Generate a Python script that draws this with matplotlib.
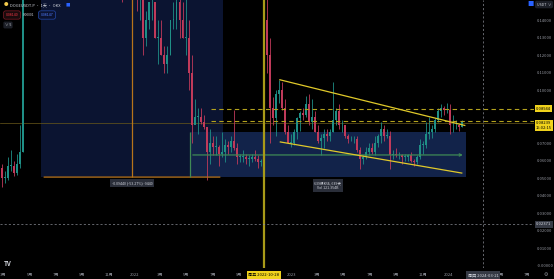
#!/usr/bin/env python3
"""DOGEUSDT.P daily chart, dark TradingView style, with range tools and a falling wedge."""
import matplotlib
matplotlib.use("Agg")
import matplotlib.pyplot as plt  # noqa: E402
import matplotlib.dates as mdates  # noqa: E402
import pandas as pd  # noqa: E402

plt.rcParams["font.family"] = ["Noto Sans CJK SC", "DejaVu Sans"]

# weekly candles, first week starts 2021-02-22
first_open = 0.056
highs = [
    0.058, 0.054, 0.062, 0.066, 0.060, 0.064, 0.080, 0.450, 0.440, 0.400,
    0.740, 0.580, 0.550, 0.380, 0.450, 0.350, 0.340, 0.290, 0.270, 0.250,
    0.210, 0.210, 0.220, 0.250, 0.350, 0.350, 0.330, 0.310, 0.310, 0.260,
    0.250, 0.240, 0.260, 0.260, 0.270, 0.300, 0.290, 0.290, 0.250, 0.230,
    0.230, 0.190, 0.180, 0.190, 0.190, 0.170, 0.200, 0.180, 0.145, 0.150,
    0.175, 0.150, 0.140, 0.140, 0.125, 0.125, 0.140, 0.150, 0.160, 0.160,
    0.150, 0.170, 0.140, 0.120, 0.095, 0.090, 0.090, 0.086, 0.076, 0.078,
    0.074, 0.074, 0.069, 0.076, 0.072, 0.071, 0.074, 0.089, 0.070, 0.064,
    0.066, 0.064, 0.063, 0.064, 0.066, 0.063, 0.061, 0.160, 0.157, 0.130,
    0.096, 0.100, 0.106, 0.105, 0.095, 0.080, 0.075, 0.078, 0.085, 0.088,
    0.090, 0.097, 0.098, 0.095, 0.088, 0.080, 0.075, 0.078, 0.078, 0.078,
    0.105, 0.090, 0.092, 0.083, 0.080, 0.075, 0.074, 0.074, 0.074, 0.068,
    0.063, 0.068, 0.070, 0.070, 0.074, 0.075, 0.082, 0.080, 0.078, 0.077,
    0.066, 0.067, 0.065, 0.064, 0.064, 0.064, 0.065, 0.061, 0.063, 0.072,
    0.071, 0.082, 0.085, 0.080, 0.084, 0.090, 0.092, 0.091, 0.093, 0.092,
    0.086, 0.083, 0.081, 0.083,
]
lows = [
    0.045, 0.047, 0.049, 0.054, 0.051, 0.052, 0.056, 0.065, 0.200, 0.250,
    0.380, 0.370, 0.220, 0.290, 0.300, 0.280, 0.270, 0.170, 0.230, 0.210,
    0.180, 0.165, 0.190, 0.190, 0.240, 0.280, 0.270, 0.260, 0.200, 0.230,
    0.190, 0.190, 0.220, 0.220, 0.230, 0.240, 0.250, 0.240, 0.200, 0.200,
    0.150, 0.160, 0.155, 0.160, 0.165, 0.145, 0.140, 0.120, 0.125, 0.135,
    0.140, 0.130, 0.115, 0.120, 0.110, 0.110, 0.120, 0.135, 0.135, 0.130,
    0.130, 0.120, 0.100, 0.070, 0.083, 0.075, 0.081, 0.078, 0.049, 0.058,
    0.063, 0.063, 0.057, 0.062, 0.059, 0.064, 0.065, 0.066, 0.058, 0.059,
    0.059, 0.058, 0.057, 0.059, 0.060, 0.056, 0.057, 0.059, 0.110, 0.070,
    0.080, 0.074, 0.093, 0.089, 0.075, 0.070, 0.068, 0.069, 0.072, 0.077,
    0.083, 0.085, 0.080, 0.078, 0.076, 0.070, 0.063, 0.067, 0.071, 0.071,
    0.076, 0.080, 0.078, 0.076, 0.073, 0.070, 0.071, 0.070, 0.065, 0.055,
    0.058, 0.061, 0.063, 0.064, 0.063, 0.068, 0.070, 0.071, 0.073, 0.055,
    0.061, 0.062, 0.061, 0.058, 0.060, 0.060, 0.059, 0.057, 0.058, 0.061,
    0.064, 0.067, 0.072, 0.073, 0.076, 0.082, 0.085, 0.086, 0.087, 0.075,
    0.076, 0.078, 0.077, 0.079,
]
closes = [
    0.050, 0.050, 0.057, 0.057, 0.053, 0.058, 0.065, 0.400, 0.270, 0.390,
    0.490, 0.500, 0.310, 0.310, 0.320, 0.320, 0.280, 0.240, 0.240, 0.210,
    0.190, 0.210, 0.210, 0.250, 0.330, 0.320, 0.280, 0.280, 0.250, 0.240,
    0.200, 0.230, 0.230, 0.240, 0.260, 0.280, 0.260, 0.250, 0.220, 0.210,
    0.190, 0.170, 0.160, 0.180, 0.170, 0.160, 0.170, 0.130, 0.140, 0.150,
    0.150, 0.130, 0.130, 0.120, 0.115, 0.120, 0.140, 0.140, 0.150, 0.140,
    0.130, 0.130, 0.110, 0.080, 0.085, 0.085, 0.082, 0.079, 0.065, 0.070,
    0.068, 0.068, 0.064, 0.065, 0.069, 0.068, 0.071, 0.067, 0.062, 0.062,
    0.062, 0.061, 0.061, 0.062, 0.061, 0.059, 0.060, 0.140, 0.120, 0.090,
    0.084, 0.098, 0.100, 0.090, 0.076, 0.070, 0.070, 0.076, 0.084, 0.087,
    0.086, 0.092, 0.082, 0.085, 0.076, 0.071, 0.073, 0.075, 0.074, 0.076,
    0.083, 0.088, 0.080, 0.080, 0.074, 0.072, 0.072, 0.072, 0.066, 0.061,
    0.062, 0.065, 0.067, 0.065, 0.070, 0.074, 0.078, 0.074, 0.074, 0.063,
    0.064, 0.063, 0.063, 0.062, 0.062, 0.063, 0.060, 0.059, 0.062, 0.069,
    0.069, 0.075, 0.076, 0.078, 0.083, 0.088, 0.090, 0.089, 0.089, 0.080,
    0.080, 0.080, 0.079, 0.082,
]
weeks = pd.date_range("2021-02-22", periods=len(closes), freq="W-MON")

# drawings
upper_line = (["2022-12-04", "2024-02-07"], [0.106, 0.080])
lower_line = (["2022-12-05", "2024-01-31"], [0.0706, 0.0529])
range1_dates = ["2021-05-28", "2022-07-24"]
range1_prices = [0.0506, 0.1450]
range2_dates = ["2022-05-09", "2024-02-09"]
range2_prices = [0.0506, 0.0763]
alert_levels = [0.08944, 0.08239]
last_price = 0.0814
event_day = "2022-10-28"
cross_day = "2024-03-21"
cross_price = 0.02371

UP = "#1f8f86"
DOWN = "#c03a5a"
GRID_TXT = "#9598a1"


def d(s):
    return mdates.date2num(pd.Timestamp(s))


fig = plt.figure(figsize=(5.54, 2.79), dpi=100, facecolor="#000000")
ax = fig.add_axes([0, 11 / 279, 534 / 554, 268 / 279], facecolor="#000000")
ax.set_xlim(d("2021-02-21"), d("2024-07-17"))
ax.set_ylim(-0.00114, 0.1514)

# range tools
ax.add_patch(plt.Rectangle((d(range1_dates[0]), range1_prices[0]),
                           d(range1_dates[1]) - d(range1_dates[0]),
                           0.3, color="#0b1431", zorder=0, lw=0))
ax.add_patch(plt.Rectangle((d(range2_dates[0]), range2_prices[0]),
                           d(range2_dates[1]) - d(range2_dates[0]),
                           range2_prices[1] - range2_prices[0],
                           color="#12234a", zorder=0.5, lw=0))

# candles
prev = first_open
for t, h, lo, c in zip(weeks, highs, lows, closes):
    x = d(t) + 3.5
    col = UP if c >= prev else DOWN
    ax.vlines(x, lo, h, color=col, lw=0.6, zorder=2)
    ax.bar(x, abs(c - prev) or 0.0004, bottom=min(c, prev), width=4.5,
           color=col, lw=0, zorder=2)
    prev = c

# lines of the tools
mid1 = (d(range1_dates[0]) + d(range1_dates[1])) / 2
ax.vlines(mid1, range1_prices[0], 0.3, color="#b8741a", lw=0.9, zorder=3)
ax.annotate("", xy=(d(range1_dates[1]), range1_prices[0]),
            xytext=(d(range1_dates[0]), range1_prices[0]),
            arrowprops=dict(arrowstyle="-", color="#b8741a", lw=0.9), zorder=3)
ax.vlines(d(range2_dates[0]), range2_prices[0], range2_prices[1],
          color="#3f8a55", lw=0.9, zorder=3)
ymid2 = 0.0632
ax.annotate("", xy=(d(range2_dates[1]), ymid2),
            xytext=(d(range2_dates[0]), ymid2),
            arrowprops=dict(arrowstyle="->", color="#3f8a55", lw=0.9,
                            mutation_scale=4), zorder=3)

ax.text(mid1, range1_prices[0] - 0.0022, "-0.09440 (-53.27%) -9440",
        ha="center", va="top", fontsize=2.6, color="#d1d4dc",
        bbox=dict(boxstyle="square,pad=0.5", fc="#2a2e39", ec="none"), zorder=6)
ax.text((d(range2_dates[0]) + d(range2_dates[1])) / 2, range2_prices[0] - 0.0022,
        "639根K线, 639天\nVol 121.354B", ha="center", va="top",
        fontsize=2.6, color="#d1d4dc", linespacing=1.3,
        bbox=dict(boxstyle="square,pad=0.5", fc="#2a2e39", ec="none"), zorder=6)

# wedge
ax.plot([d(s) for s in upper_line[0]], upper_line[1], color="#e0c92a",
        lw=0.9, zorder=4)
ax.plot([d(s) for s in lower_line[0]], lower_line[1], color="#e0c92a",
        lw=0.9, zorder=4)

# horizontal levels
for lvl in alert_levels:
    ax.hlines(lvl, d("2022-06-27"), ax.get_xlim()[1], color="#b3a21d",
              lw=0.8, linestyles=(0, (4, 3)), zorder=3)
ax.axhline(last_price, color="#6b5a1a", lw=0.5, zorder=1)

# event line
ax.axvline(d(event_day), color="#a89a18", lw=1.6, zorder=3)

# crosshair
ax.axvline(d(cross_day), color="#8a8d96", lw=0.5, ls=(0, (3, 3)), zorder=5)
ax.axhline(cross_price, color="#8a8d96", lw=0.5, ls=(0, (3, 3)), zorder=5)

# axes
for s in ax.spines.values():
    s.set_visible(False)
ax.yaxis.tick_right()
yt = [i / 100 for i in range(0, 15) if i not in (8, 9)]
ax.set_yticks(yt)
ax.set_yticklabels(["-0.00000" if v == 0 else f"{v:.5f}" for v in yt])
xt_dates = ["2021-03-01", "2021-05-01", "2021-07-01", "2021-09-01", "2021-11-01",
            "2022-01-01", "2022-03-01", "2022-05-01", "2022-07-01", "2022-09-01",
            "2023-01-01", "2023-03-01", "2023-05-01", "2023-07-01", "2023-09-01",
            "2023-11-01", "2024-01-01", "2024-05-01", "2024-07-01"]
ax.set_xticks([d(s) for s in xt_dates])
ax.set_xticklabels([s[:4] if s[5:7] == "01" else f"{int(s[5:7])}月"
                    for s in xt_dates])
ax.tick_params(axis="both", length=0, labelsize=3.0, colors=GRID_TXT)
ax.tick_params(axis="x", pad=3.5)
ax.tick_params(axis="y", pad=1.8)

# price labels on the right axis
box = dict(boxstyle="square,pad=0.35", fc="#f0d21c", ec="none")
ax.annotate("0.08944", xy=(1, alert_levels[0]), xycoords=("axes fraction", "data"),
            xytext=(2, 0), textcoords="offset pixels", va="center",
            fontsize=3.0, color="#000000", bbox=box, annotation_clip=False)
ax.annotate("0.08239\n15:02:15", xy=(1, alert_levels[1]),
            xycoords=("axes fraction", "data"), xytext=(2, 0),
            textcoords="offset pixels", va="top", fontsize=3.0,
            color="#000000", bbox=box, annotation_clip=False, linespacing=1.1)
ax.annotate(f"{cross_price:.5f}", xy=(1, cross_price),
            xycoords=("axes fraction", "data"), xytext=(2, 0),
            textcoords="offset pixels", va="center", fontsize=3.0,
            color="#d1d4dc", annotation_clip=False,
            bbox=dict(boxstyle="square,pad=0.35", fc="#363a45", ec="none"))

# date labels on the time axis
ax.annotate("周五 2022-10-28", xy=(d(event_day), 0), xycoords=("data", "axes fraction"),
            xytext=(0, -7), textcoords="offset pixels", ha="center", va="center",
            fontsize=3.0, color="#000000", annotation_clip=False,
            bbox=dict(boxstyle="square,pad=0.4", fc="#f0d21c", ec="none"))
ax.annotate("周四 2024-03-21", xy=(d(cross_day), 0), xycoords=("data", "axes fraction"),
            xytext=(0, -7), textcoords="offset pixels", ha="center", va="center",
            fontsize=3.0, color="#d1d4dc", annotation_clip=False,
            bbox=dict(boxstyle="square,pad=0.4", fc="#363a45", ec="none"))

# header
fig.text(10 / 554, 1 - 5 / 279, "DOGEUSDT.P · 1天 · OKX", fontsize=2.9,
         color="#d1d4dc", va="center")
fig.text(4 / 554, 1 - 5 / 279, "●", fontsize=3.2, color="#f2c94c", va="center")
fig.text(66 / 554, 1 - 5 / 279, "■", fontsize=3.2, color="#2962ff", va="center")
fig.text(12 / 554, 1 - 15 / 279, "0.08140", fontsize=2.6, color="#f23645",
         ha="center", va="center",
         bbox=dict(boxstyle="round,pad=0.6", fc="#1a0b0d", ec="#7a1c26", lw=0.5))
fig.text(29 / 554, 1 - 15 / 279, "0.00001", fontsize=2.4, color="#d1d4dc",
         ha="center", va="center")
fig.text(47 / 554, 1 - 15 / 279, "0.08147", fontsize=2.6, color="#4f7cff",
         ha="center", va="center",
         bbox=dict(boxstyle="round,pad=0.6", fc="#0b1230", ec="#2449a8", lw=0.5))
fig.text(8 / 554, 1 - 25 / 279, "∨ 5", fontsize=2.6, color="#d1d4dc",
         ha="center", va="center",
         bbox=dict(boxstyle="round,pad=0.4", fc="#1c1f27", ec="none"))
fig.text(544 / 554, 1 - 4.5 / 279, "USDT  ∨", fontsize=2.6, color="#d1d4dc",
         ha="center", va="center",
         bbox=dict(boxstyle="round,pad=0.5", fc="#1c1f27", ec="none"))
fig.text(530 / 554, 1 - 4.5 / 279, "■", fontsize=4.5, color="#2962ff",
         ha="center", va="center")
fig.text(8 / 554, 1 - 263 / 279, "TV", fontsize=4.5, color="#d1d4dc",
         ha="center", va="center", fontweight="bold")
fig.text(546 / 554, 1 - 274 / 279, "⚙", fontsize=3.5, color=GRID_TXT,
         ha="center", va="center")

fig.savefig("out.png", dpi=100, facecolor=fig.get_facecolor())
